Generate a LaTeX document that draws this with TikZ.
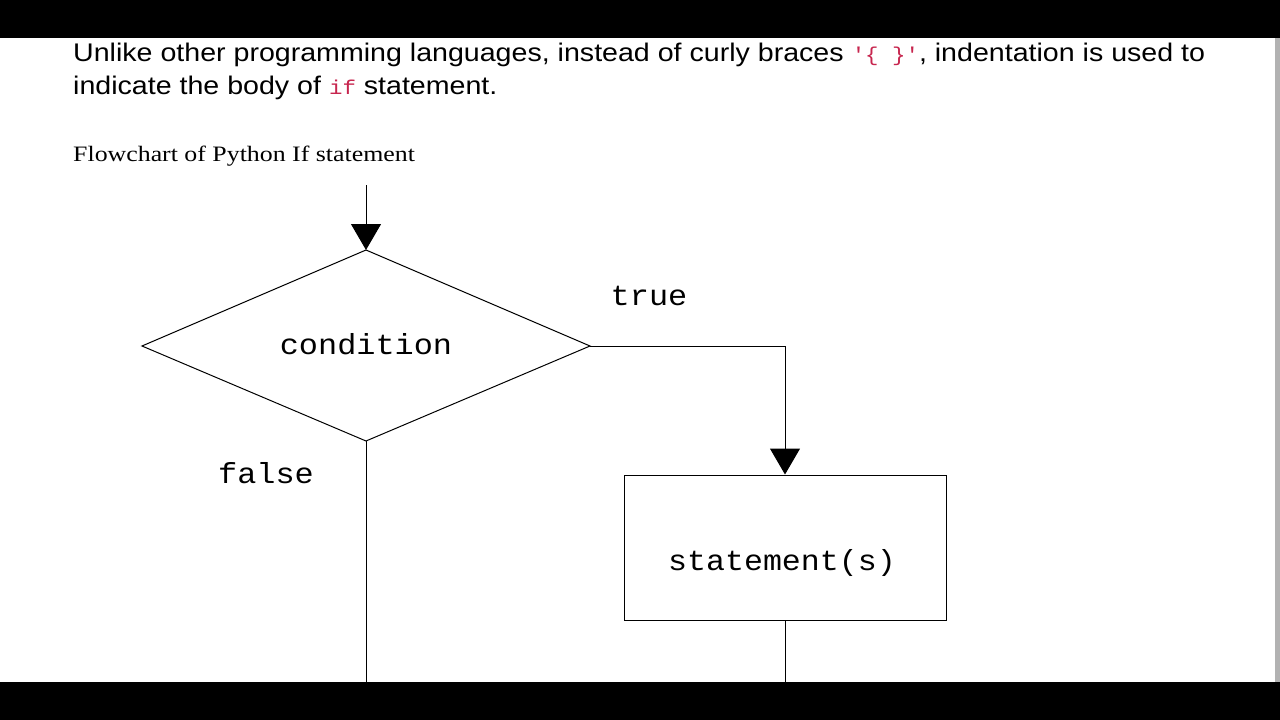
\documentclass[tikz,border=0pt]{standalone}
\usepackage{fontspec}
\usepackage{graphicx}
\setmainfont{Liberation Sans}
\newfontfamily\serifx{Liberation Serif}
\newfontfamily\courx{Liberation Mono}
\usetikzlibrary{arrows.meta}
\definecolor{codered}{RGB}{199,37,78}
\tikzset{
  flow/.style={line width=1pt, draw=black},
  tip/.style={-{Triangle[width=30pt,length=26pt]}},
  lbl/.style={font=\courx\fontsize{29}{29}\selectfont, inner sep=0pt},
}
\newcommand{\wide}[2]{\scalebox{#1}[1]{#2}}
\begin{document}
\begin{tikzpicture}[x=1pt,y=-1pt]
\useasboundingbox (0,0) rectangle (1280,720);
\fill[white] (0,0) rectangle (1280,720);
\fill[black] (0,0) rectangle (1280,38);
\fill[black] (0,682) rectangle (1280,720);
\fill[gray!60] (1275,38) rectangle (1280,682);
\node[anchor=base west, inner sep=0pt, font=\fontsize{25.5}{30}\selectfont] (l1) at (73,61) {\wide{1.121}{Unlike other programming languages, instead of curly braces \textcolor{codered}{\courx\fontsize{20}{20}\selectfont '\{ \}'}, indentation is used to}};
\node[anchor=base west, inner sep=0pt, font=\fontsize{25.5}{30}\selectfont] (l2) at (73,94) {\wide{1.121}{indicate the body of \textcolor{codered}{\courx\fontsize{20}{20}\selectfont if} statement.}};
\node[anchor=base west, inner sep=0pt, font=\serifx\fontsize{22}{24}\selectfont] (cap) at (73,161) {\wide{1.175}{Flowchart of Python If statement}};
\coordinate (start) at (366,185);
\coordinate (dT) at (366,250);
\coordinate (dL) at (142,346);
\coordinate (dR) at (590,346);
\coordinate (dB) at (366,441);
\draw[flow] (dT) -- (dR) -- (dB) -- (dL) -- cycle;
\node[lbl] (cond) at (366,344) {\wide{1.1}{condition}};
\draw[flow,tip] (start) -- (dT);
\node[draw, line width=1pt, minimum width=322pt, minimum height=145pt, inner sep=0pt] (box) at (785,547.5) {};
\node[lbl] (st) at (782,563) {\wide{1.09}{statement(s)}};
\coordinate (corner) at (785,346);
\draw[flow,tip] (dR) -- (corner) -- (box.north);
\node[lbl] (tr) at (649,296) {\wide{1.1}{true}};
\node[lbl] (fa) at (266,473) {\wide{1.1}{false}};
\coordinate (fEnd) at (366,682);
\draw[flow] (dB) -- (fEnd);
\coordinate (sEnd) at (785,682);
\draw[flow] (box.south) -- (sEnd);
\end{tikzpicture}
\end{document}
